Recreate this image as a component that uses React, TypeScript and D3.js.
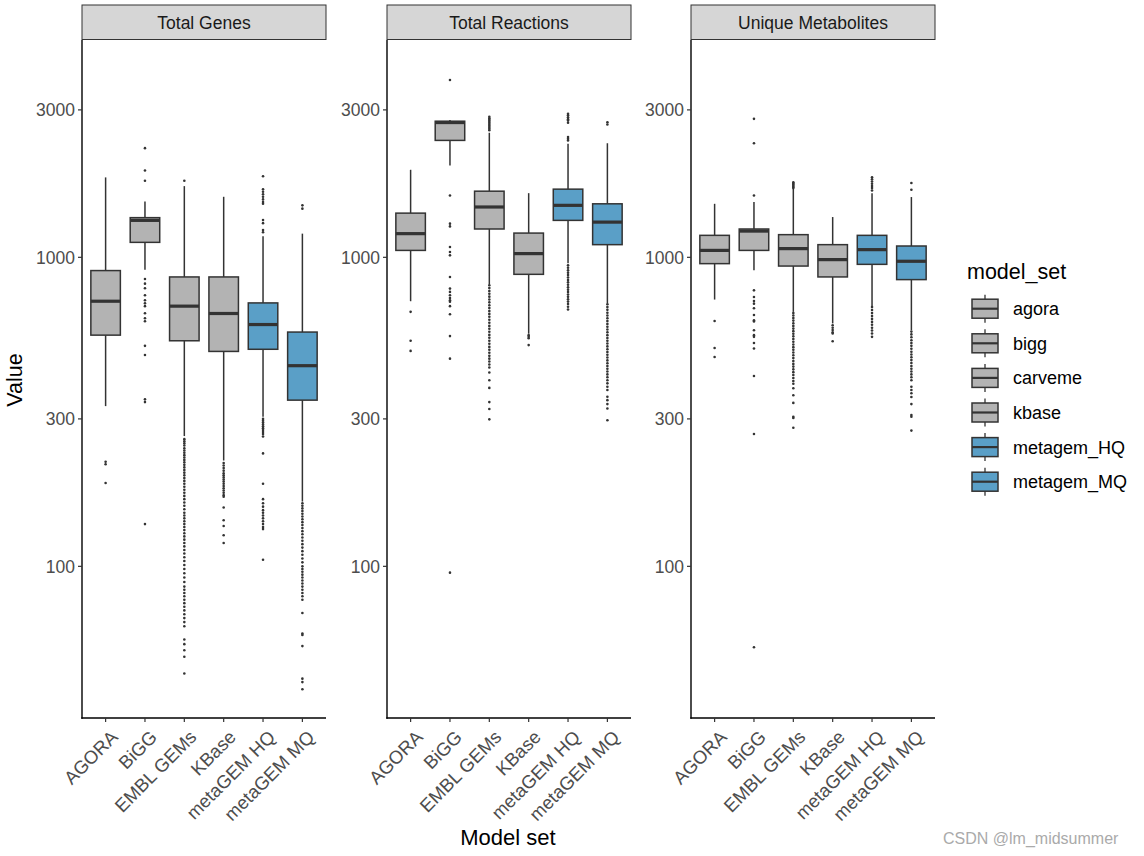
import * as d3 from 'd3';

// x categories shown on each facet and the fill legend keys
const categories = ['AGORA', 'BiGG', 'EMBL GEMs', 'KBase', 'metaGEM HQ', 'metaGEM MQ'];
const modelSets = ['agora', 'bigg', 'carveme', 'kbase', 'metagem_HQ', 'metagem_MQ'];
const facets = ['Total Genes', 'Total Reactions', 'Unique Metabolites'];
const yTicks = [100, 300, 1000, 3000];

// box stats per category: [lower whisker, Q1, median, Q3, upper whisker]
const genesStats = [
  [330, 560, 721, 906, 1814],
  [912, 1118, 1317, 1344, 1517],
  [264, 537, 695, 864, 1700],
  [220, 496, 658, 864, 1570],
  [305, 504, 606, 712, 1170],
  [162, 345, 446, 573, 1193],
];
const genesOutliers = [
  [218, 214, 186],
  [2256, 1910, 1769, 851, 822, 794, 754, 726, 710, 695, 659, 635, 621, 517, 483, 347, 340, 137],
  [1769, 258, 254, 250, 246, 241, 237, 233, 229, 225, 221, 217, 213, 209, 205, 201, 197, 193, 189, 185, 181,
    177, 173, 169, 165, 161, 157, 153, 149, 146, 143, 140, 137, 134, 131, 128, 125, 122, 119, 116, 113, 110,
    107, 104, 101, 98, 95, 92, 89, 86, 84, 82, 80, 78, 76, 74, 72, 70, 68, 66, 64, 58, 56, 53.5, 51, 45],
  [216, 212, 208, 204, 200, 197, 194, 191, 188, 185, 182, 179, 176, 173, 170, 168, 155, 141, 135, 126, 119],
  [1830, 1660, 1630, 1600, 1570, 1540, 1510, 1490, 1320, 1290, 1225, 1205,
    300, 296, 292, 288, 284, 280, 276, 272, 268, 263, 232, 185, 165, 160, 156, 152, 149, 146, 143, 140, 137, 134, 132, 105],
  [1473, 1437, 160, 157, 154, 151, 148, 145, 142, 139, 136, 133, 130, 127, 124, 121, 118, 115, 112, 109, 106,
    103, 100, 98, 96, 94, 92, 90, 88, 86, 84, 82, 80, 78, 70.6, 60.6, 60, 55.2, 43.3, 42.2, 40],
];

const reactionsStats = [
  [721, 1053, 1193, 1390, 1920],
  [1982, 2390, 2730, 2757, 2780],
  [818, 1235, 1455, 1637, 2530],
  [566, 881, 1028, 1198, 1613],
  [956, 1317, 1473, 1662, 2330],
  [710, 1099, 1300, 1490, 2340],
];
const reactionsOutliers = [
  [666, 537, 498],
  [3747, 1586, 1285, 1259, 1080, 1040, 1015, 864, 792, 773, 754, 738, 726, 718, 695, 654, 556, 470, 95.4],
  [2850, 2820, 2790, 2760, 2730, 2700, 2670, 2640, 2610, 2580,
    812, 795, 778, 762, 746, 730, 715, 700, 685, 670, 656, 642, 628, 614, 600, 587, 574, 561, 549, 537,
    525, 513, 502, 491, 480, 470, 460, 450, 440, 424, 400, 378, 340, 323, 299],
  [560, 553, 547, 520],
  [2913, 2880, 2840, 2800, 2770, 2726, 2450, 2420, 2390,
    942, 925, 908, 892, 876, 860, 845, 830, 815, 800, 786, 772, 758, 745, 732, 719, 706, 692, 678],
  [2736, 2690, 705, 690, 676, 662, 648, 635, 622, 609, 596, 584, 572, 560, 548, 537, 526, 515, 504, 494,
    484, 474, 464, 454, 445, 436, 427, 418, 409, 400, 391, 381, 372, 354, 345, 335, 324, 297],
];

const metabolitesStats = [
  [730, 954, 1053, 1178, 1490],
  [908, 1053, 1216, 1235, 1509],
  [666, 937, 1067, 1184, 1667],
  [611, 864, 983, 1099, 1350],
  [695, 949, 1059, 1178, 1613],
  [581, 847, 971, 1088, 1567],
];
const metabolitesOutliers = [
  [622, 509, 476],
  [2806, 2340, 1586, 782, 744, 722, 708, 684, 651, 626, 620, 581, 560, 553, 528, 507, 413, 268, 54.7],
  [1750, 1735, 1720, 1705, 1690, 1675, 660, 648, 636, 624, 612, 600, 588, 577, 566, 555, 544, 533, 522,
    512, 502, 492, 482, 472, 462, 452, 443, 434, 425, 416, 407, 398, 390, 377, 358, 338, 305, 302, 281],
  [603, 592, 582, 572, 567, 535],
  [1817, 1790, 1760, 1730, 1700, 1675, 1646, 690, 675, 660, 646, 632, 618, 605, 592, 580, 567, 553],
  [1740, 1654, 575, 563, 551, 539, 528, 517, 506, 495, 485, 475, 465, 455, 445, 436, 427, 418, 409, 400,
    381, 372, 363, 353, 335, 309, 305, 275],
];

const panelStats = [genesStats, reactionsStats, metabolitesStats];
const panelOutliers = [genesOutliers, reactionsOutliers, metabolitesOutliers];

const GREY = '#B3B3B3';
const BLUE = '#5A9FC7';
const fills = [GREY, GREY, GREY, GREY, BLUE, BLUE];
const INK = '#333333';
const FONT = '"Liberation Sans", Arial, Helvetica, sans-serif';

const W = 1144, H = 856;
const panelLeft = [82, 387, 691];
const panelW = 244;
const top = 40, bottom = 718;

export default function App() {
  const y = d3.scaleLog().domain([32.3, 5050]).range([bottom, top]);

  const panels = facets.map((facet, p) => {
    const x0 = panelLeft[p];
    const x = d3.scalePoint<string>().domain(categories).range([x0, x0 + panelW]).padding(0.6);
    const bw = x.step() * 0.75;
    return (
      <g key={facet}>
        {/* strip */}
        <rect x={x0} y={5} width={panelW} height={34.5} fill="#D6D6D6" stroke={INK} strokeWidth={1} />
        <text x={x0 + panelW / 2} y={28.5} textAnchor="middle" fontSize={17.5} fill="#1A1A1A">{facet}</text>

        {/* boxes */}
        {categories.map((c, i) => {
          const [lo, q1, med, q3, hi] = panelStats[p][i];
          const cx = x(c)!;
          return (
            <g key={c}>
              <line x1={cx} x2={cx} y1={y(hi)} y2={y(q3)} stroke={INK} strokeWidth={1.5} />
              <line x1={cx} x2={cx} y1={y(q1)} y2={y(lo)} stroke={INK} strokeWidth={1.5} />
              <rect x={cx - bw / 2} y={y(q3)} width={bw} height={y(q1) - y(q3)}
                fill={fills[i]} stroke={INK} strokeWidth={1.5} />
              <line x1={cx - bw / 2} x2={cx + bw / 2} y1={y(med)} y2={y(med)} stroke={INK} strokeWidth={3.2} />
              {panelOutliers[p][i].map((v, k) => (
                <circle key={k} cx={cx} cy={y(v)} r={1.3} fill={INK} />
              ))}
            </g>
          );
        })}

        {/* y axis */}
        <line x1={x0} x2={x0} y1={top} y2={bottom + 0.7} stroke="#000" strokeWidth={1.4} />
        {yTicks.map(t => (
          <g key={t}>
            <line x1={x0 - 4} x2={x0} y1={y(t)} y2={y(t)} stroke={INK} strokeWidth={1.2} />
            <text x={x0 - 7} y={y(t)} dy="0.36em" textAnchor="end" fontSize={17.5} fill="#4D4D4D">{t}</text>
          </g>
        ))}

        {/* x axis */}
        <line x1={x0 - 0.7} x2={x0 + panelW} y1={bottom} y2={bottom} stroke="#000" strokeWidth={1.4} />
        {categories.map(c => (
          <g key={c}>
            <line x1={x(c)} x2={x(c)} y1={bottom} y2={bottom + 4} stroke={INK} strokeWidth={1.2} />
            <text transform={`translate(${x(c)! + 4},${bottom + 11}) rotate(-45)`} dy="0.71em"
              textAnchor="end" fontSize={18.5} fill="#4D4D4D">{c}</text>
          </g>
        ))}
      </g>
    );
  });

  const legendY = d3.scalePoint<string>().domain(modelSets).range([308.7, 481.7]);

  return (
    <svg width={W} height={H} viewBox={`0 0 ${W} ${H}`} fontFamily={FONT}
      style={{ position: 'absolute', left: 0, top: 0, background: '#fff' }}>
      <rect width={W} height={H} fill="#fff" />
      {panels}

      {/* axis titles */}
      <text transform={`translate(22,380) rotate(-90)`} textAnchor="middle" fontSize={21.5} fill="#000">Value</text>
      <text x={508} y={845} textAnchor="middle" fontSize={22} fill="#000">Model set</text>

      {/* legend */}
      <text x={967} y={279} fontSize={21.5} fill="#000">model_set</text>
      {modelSets.map((m, i) => {
        const cy = legendY(m)!;
        return (
          <g key={m}>
            <line x1={985} x2={985} y1={cy - 14} y2={cy + 14} stroke={INK} strokeWidth={1.3} />
            <rect x={972} y={cy - 9.5} width={26} height={19} fill={fills[i]} stroke={INK} strokeWidth={1.5} />
            <line x1={972} x2={998} y1={cy} y2={cy} stroke={INK} strokeWidth={2.2} />
            <text x={1013} y={cy} dy="0.36em" fontSize={18} fill="#000">{m}</text>
          </g>
        );
      })}

      <text x={943} y={844} fontSize={16} fill="#AAAAAA">CSDN @lm_midsummer</text>
    </svg>
  );
}
